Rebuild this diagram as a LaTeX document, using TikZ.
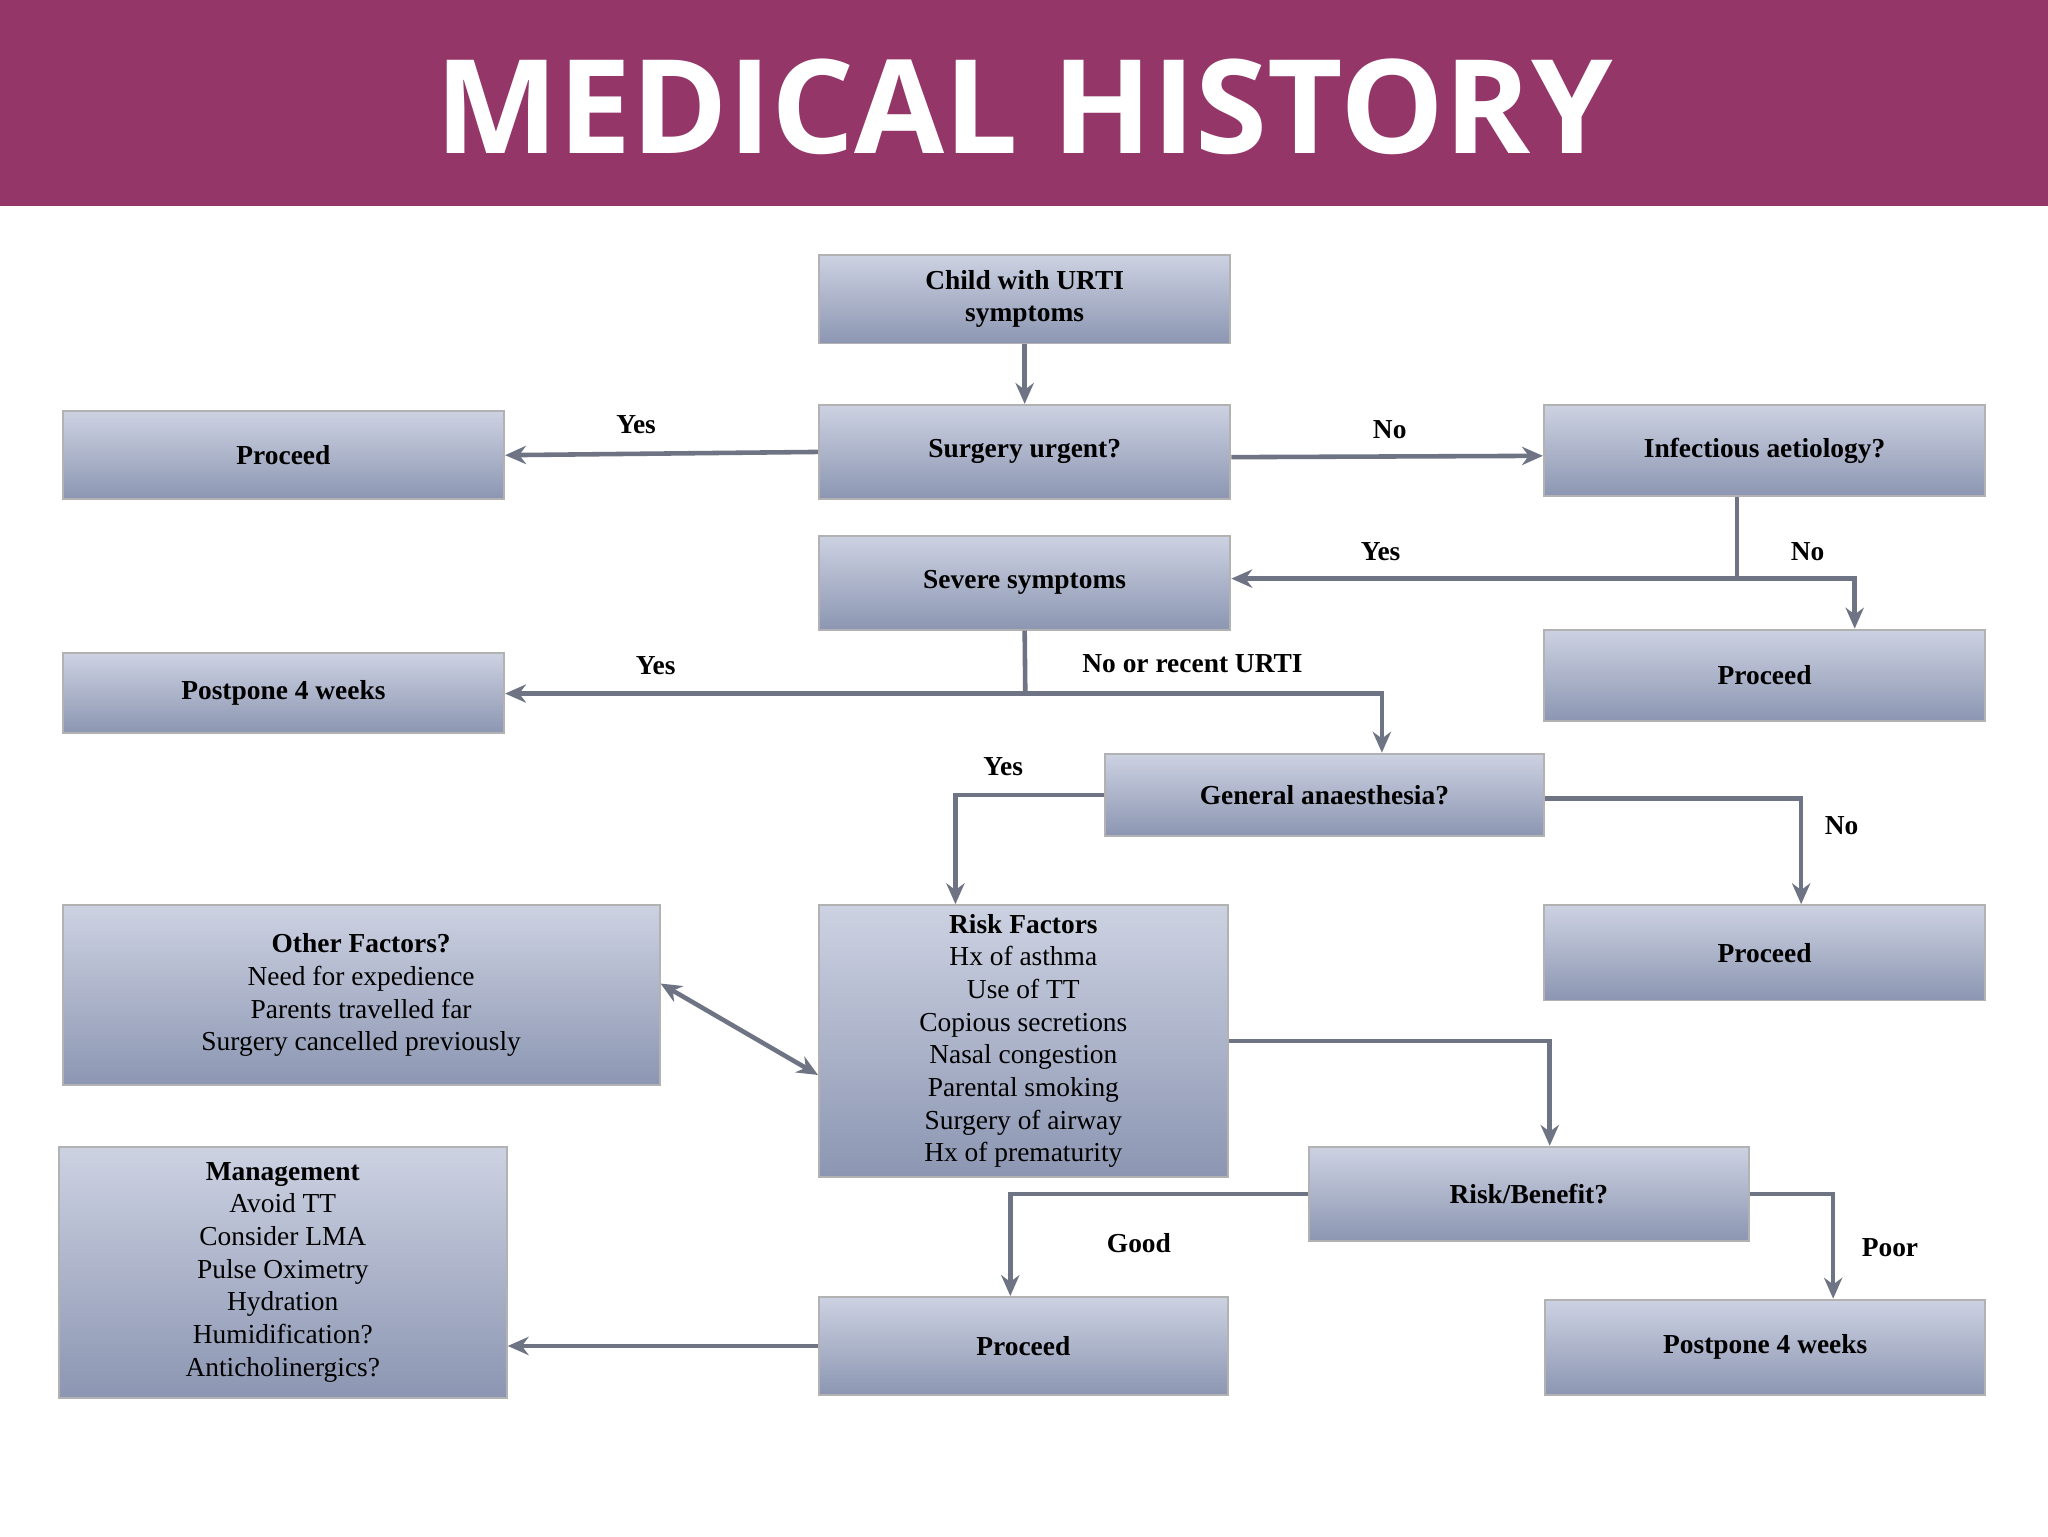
\documentclass[tikz,border=0pt]{standalone}
\usepackage{fontspec}
\setmainfont{Liberation Serif}
\newfontfamily\titlefont{Open Sans}
\usetikzlibrary{arrows.meta,calc}
\tikzset{
  bx/.style={draw=gray!60, line width=1.5pt, top color=boxtop, bottom color=boxbot, inner sep=0pt, align=center, font=\fontsize{21}{25}\selectfont\bfseries},
  conn/.style={draw=linec, line width=3.5pt, -{Stealth[length=16pt,width=14pt]}},
  plain/.style={draw=linec, line width=3.5pt},
  lab/.style={font=\fontsize{21}{25}\selectfont\bfseries}
}
\definecolor{boxtop}{HTML}{CDD2E2}
\definecolor{boxbot}{HTML}{8C96B2}
\definecolor{linec}{HTML}{6E7484}
\definecolor{bar}{HTML}{943668}
\newcommand{\bx}[6]{\node[bx, minimum width=#4pt-#2pt, minimum height=#5pt-#3pt] (#1) at ({(#2+#4)/2},{(#3+#5)/2}) {#6};}
\begin{document}
\begin{tikzpicture}[x=1pt,y=-1pt]
\useasboundingbox (0,0) rectangle (1568,1176);
\fill[white] (0,0) rectangle (1568,1176);
\fill[bar] (0,0) rectangle (1568,158);
\node[font=\titlefont\fontsize{100}{110}\selectfont\bfseries, text=white] (title) at (784,82) {MEDICAL HISTORY};
\bx{child}{627}{195}{942}{263}{Child with URTI\\symptoms}
\bx{surg}{627}{310}{942}{382}{Surgery urgent?}
\bx{pa}{48}{315}{386}{382}{Proceed}
\bx{inf}{1182}{310}{1520}{380}{Infectious aetiology?}
\bx{sev}{627}{410}{942}{482}{Severe symptoms}
\bx{pb}{1182}{482}{1520}{552}{Proceed}
\bx{ppa}{48}{500}{386}{561}{Postpone 4 weeks}
\bx{ga}{846}{577}{1182}{640}{General anaesthesia?}
\bx{pc}{1182}{693}{1520}{766}{Proceed}
\bx{oth}{48}{693}{505}{831}{Other Factors?\\\mdseries Need for expedience\\\mdseries Parents travelled far\\\mdseries Surgery cancelled previously}
\bx{risk}{627}{693}{940}{901}{Risk Factors\\\mdseries Hx of asthma\\\mdseries Use of TT\\\mdseries Copious secretions\\\mdseries Nasal congestion\\\mdseries Parental smoking\\\mdseries Surgery of airway\\\mdseries Hx of prematurity}
\bx{rb}{1002}{878}{1339}{950}{Risk/Benefit?}
\bx{man}{45}{878}{388}{1070}{Management\\\mdseries Avoid TT\\\mdseries Consider LMA\\\mdseries Pulse Oximetry\\\mdseries Hydration\\\mdseries Humidification?\\\mdseries Anticholinergics?}
\bx{pd}{627}{993}{940}{1068}{Proceed}
\bx{ppb}{1183}{995}{1520}{1068}{Postpone 4 weeks}
% connectors
\draw[conn] (child.south) -- (surg.north);
\draw[conn] (surg.west) -- (pa.east);
\node[lab] (l1) at (487,325) {Yes};
\draw[conn] ([yshift=-4pt]surg.east) -- ([yshift=-4pt]inf.west);
\node[lab] (l2) at (1064,329) {No};
\coordinate (j1) at (1330,443);
\draw[plain] ([xshift=-21pt]inf.south) -- (j1);
\draw[conn] (j1) -- (sev.east |- j1);
\draw[conn] (j1) -| ([xshift=69pt]pb.north);
\node[lab] (l3) at (1057,422) {Yes};
\node[lab] (l4) at (1384,422) {No};
\coordinate (j2) at (785,531);
\draw[plain] (sev.south) -- (j2);
\draw[conn] (j2) -- (ppa.east |- j2);
\draw[conn] (j2) -| ([xshift=44pt]ga.north);
\node[lab] (l5) at (502,510) {Yes};
\node[lab] (l6) at (913,508) {No or recent URTI};
\draw[conn] (ga.west) -| ([xshift=-52pt]risk.north);
\node[lab] (l7) at (768,587) {Yes};
\draw[conn] ([yshift=-3pt]ga.east) -| ([xshift=28pt]pc.north);
\node[lab] (l8) at (1410,632) {No};
\draw[draw=linec, line width=3.5pt, {Stealth[length=16pt,width=14pt]}-{Stealth[length=16pt,width=14pt]}] ([yshift=9pt]oth.east) -- ([yshift=-26pt]risk.west);
\draw[conn] (risk.east) -| ([xshift=16pt]rb.north);
\draw[conn] (rb.west) -| ([xshift=-10pt]pd.north);
\node[lab] (l9) at (872,952) {Good};
\draw[conn] (rb.east) -| ([xshift=52pt]ppb.north);
\node[lab] (l10) at (1447,955) {Poor};
\draw[conn] (pd.west) -- (man.east |- pd.west);
\end{tikzpicture}
\end{document}
